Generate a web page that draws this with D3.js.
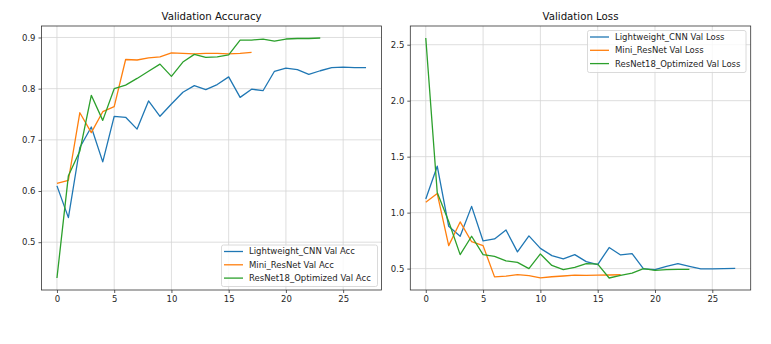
<!DOCTYPE html>
<html>
<head>
<meta charset="utf-8">
<script src="https://cdn.jsdelivr.net/npm/d3@7"></script>
<style>
  html, body { margin: 0; padding: 0; background: #fff; }
  svg { display: block; font-family: "DejaVu Sans", sans-serif; }
</style>
</head>
<body>
<svg id="chart" width="771" height="344"></svg>
<script>
// ---- Data ----
const lightweightAcc = [0.610, 0.548, 0.685, 0.725, 0.657, 0.746, 0.744, 0.721, 0.776, 0.746,
  0.770, 0.793, 0.806, 0.798, 0.808, 0.823, 0.783, 0.799, 0.796, 0.834,
  0.840, 0.837, 0.828, 0.835, 0.841, 0.842, 0.841, 0.841];
const miniResNetAcc = [0.615, 0.621, 0.753, 0.714, 0.755, 0.765, 0.857, 0.856, 0.860, 0.862,
  0.870, 0.869, 0.868, 0.869, 0.869, 0.868, 0.869, 0.871];
const resnet18Acc = [0.430, 0.630, 0.678, 0.787, 0.738, 0.800, 0.807, 0.820, 0.834, 0.848,
  0.824, 0.852, 0.867, 0.861, 0.862, 0.866, 0.895, 0.895, 0.897, 0.893,
  0.897, 0.898, 0.898, 0.899];

const lightweightLoss = [1.122, 1.415, 0.878, 0.789, 1.056, 0.747, 0.765, 0.845, 0.649, 0.792,
  0.681, 0.616, 0.586, 0.625, 0.562, 0.536, 0.688, 0.622, 0.634, 0.497,
  0.490, 0.520, 0.545, 0.520, 0.497, 0.498, 0.500, 0.502];
const miniResNetLoss = [1.092, 1.170, 0.705, 0.917, 0.740, 0.705, 0.426, 0.432, 0.446, 0.437,
  0.417, 0.427, 0.434, 0.442, 0.440, 0.442, 0.443, 0.445];
const resnet18Loss = [2.560, 1.180, 0.920, 0.625, 0.789, 0.625, 0.610, 0.569, 0.555, 0.500,
  0.631, 0.528, 0.491, 0.510, 0.545, 0.540, 0.416, 0.440, 0.460, 0.500,
  0.485, 0.490, 0.493, 0.493];

const xTicks = [0, 5, 10, 15, 20, 25];
const accTicks = [0.5, 0.6, 0.7, 0.8, 0.9];
const lossTicks = [0.5, 1.0, 1.5, 2.0, 2.5];

const seriesNames = ["Lightweight_CNN", "Mini_ResNet", "ResNet18_Optimized"];
const colors = ["#1f77b4", "#ff7f0e", "#2ca02c"];

// ---- Drawing ----
const svg = d3.select("#chart");

function padDomain(vals) {
  const lo = d3.min(vals), hi = d3.max(vals);
  const m = (hi - lo) * 0.05;
  return [lo - m, hi + m];
}

function drawPanel(opts) {
  const { left, right, top, bottom, title, series, yTicks, yFmt, legendPos, suffix } = opts;
  const g = svg.append("g");
  const allX = series.flatMap(s => s.map((d, i) => i));
  const allY = series.flat();
  const x = d3.scaleLinear().domain(padDomain(allX)).range([left, right]);
  const y = d3.scaleLinear().domain(padDomain(allY)).range([bottom, top]);

  // grid
  const grid = g.append("g").attr("stroke", "#d6d6d6").attr("stroke-width", 0.8);
  xTicks.forEach(t => grid.append("line")
    .attr("x1", x(t)).attr("x2", x(t)).attr("y1", top).attr("y2", bottom));
  yTicks.forEach(t => grid.append("line")
    .attr("x1", left).attr("x2", right).attr("y1", y(t)).attr("y2", y(t)));

  // axes
  const xAxis = d3.axisBottom(x).tickValues(xTicks).tickSize(3).tickPadding(3).tickFormat(d3.format("d"));
  const yAxis = d3.axisLeft(y).tickValues(yTicks).tickSize(3).tickPadding(3).tickFormat(yFmt);
  const gx = g.append("g").attr("transform", `translate(0,${bottom})`).call(xAxis);
  const gy = g.append("g").attr("transform", `translate(${left},0)`).call(yAxis);
  [gx, gy].forEach(a => {
    a.select(".domain").remove();
    a.selectAll("line").attr("stroke", "#333").attr("stroke-width", 0.8);
    a.selectAll("text").attr("fill", "#262626").style("font-size", "8.5px")
      .style("font-family", "DejaVu Sans, sans-serif");
  });

  // lines
  const line = d3.line().x((d, i) => x(i)).y(d => y(d));
  series.forEach((s, k) => {
    g.append("path").datum(s).attr("d", line)
      .attr("fill", "none").attr("stroke", colors[k]).attr("stroke-width", 1.3)
      .attr("stroke-linejoin", "round");
  });

  // frame
  g.append("rect").attr("x", left).attr("y", top)
    .attr("width", right - left).attr("height", bottom - top)
    .attr("fill", "none").attr("stroke", "#333").attr("stroke-width", 0.8);

  // title
  g.append("text").attr("x", (left + right) / 2).attr("y", top - 6)
    .attr("text-anchor", "middle").style("font-size", "10.2px").attr("fill", "#111")
    .text(title);

  // legend
  const lg = g.append("g").attr("transform", `translate(${legendPos[0]},${legendPos[1]})`);
  lg.append("rect").attr("x", 0).attr("y", 0)
    .attr("width", legendPos[2]).attr("height", legendPos[3])
    .attr("rx", 2).attr("fill", "#fff").attr("fill-opacity", 0.8)
    .attr("stroke", "#d0d0d0").attr("stroke-width", 0.8);
  seriesNames.forEach((n, k) => {
    const yy = 6.5 + k * 13.3;
    lg.append("line").attr("x1", 2.5).attr("x2", 21.5).attr("y1", yy).attr("y2", yy)
      .attr("stroke", colors[k]).attr("stroke-width", 1.3);
    lg.append("text").attr("x", 27.5).attr("y", yy).attr("dy", "0.35em")
      .style("font-size", "8.5px").attr("fill", "#262626").text(n + suffix);
  });
}

drawPanel({
  left: 41.5, right: 381.5, top: 26, bottom: 290,
  title: "Validation Accuracy",
  series: [lightweightAcc, miniResNetAcc, resnet18Acc],
  yTicks: accTicks, yFmt: d3.format(".1f"),
  legendPos: [221.5, 245, 156, 41.5],
  suffix: " Val Acc"
});

drawPanel({
  left: 410.3, right: 750.7, top: 26, bottom: 290,
  title: "Validation Loss",
  series: [lightweightLoss, miniResNetLoss, resnet18Loss],
  yTicks: lossTicks, yFmt: d3.format(".1f"),
  legendPos: [587.5, 30.5, 158.5, 42],
  suffix: " Val Loss"
});
</script>
</body>
</html>
